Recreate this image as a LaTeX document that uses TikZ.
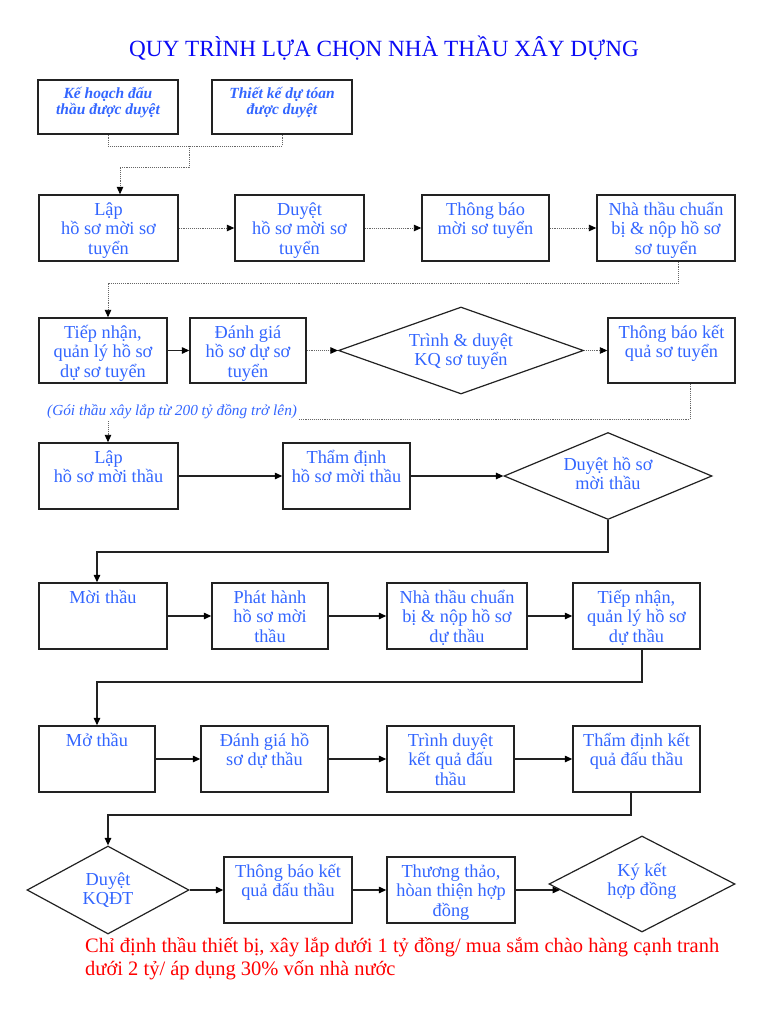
\documentclass[tikz,border=0pt]{standalone}
\usepackage{fontspec}
\setmainfont{Liberation Serif}
\usetikzlibrary{arrows.meta,shapes.geometric,calc}
\definecolor{txtblue}{HTML}{3366FF}
\definecolor{ttlblue}{HTML}{0A0AF5}
\definecolor{ln}{HTML}{222222}
\newcommand\fsbox{\fontsize{18.3}{19.5}\selectfont}
\newcommand\firstline{\rule{0pt}{18pt}}
\newcommand\bx[6]{%
  \node[box, minimum width={#4-#2}, minimum height={#5-#3}] (#1) at ({(#2+#4)/2},{(#3+#5)/2}) {};
  \node[txt, anchor=north] (#1-t) at ({(#2+#4)/2},{#3+2}) {\firstline#6};
}
\newcommand\dm[7]{% name cx cy w h firstbaseline text
  \node[dia, minimum width=#4, minimum height=#5] (#1) at (#2,#3) {};
  \node[txt, anchor=north] (#1-t) at (#2,{#6-18}) {\firstline#7};
}
\begin{document}
\begin{tikzpicture}[x=1pt,y=-1pt,
  box/.style={draw=ln, line width=1.4pt, inner sep=0pt, fill=white},
  txt/.style={text=txtblue, font=\fsbox, align=center, inner sep=0pt},
  dia/.style={diamond, draw=ln, line width=1.2pt, inner sep=0pt, fill=white},
  dotln/.style={draw=black!60, line width=0.9pt, densely dotted},
  dotarr/.style={dotln, -{Triangle[length=7.5pt,width=6.5pt,color=black]}},
  sln/.style={draw=ln, line width=1.3pt},
  sarr/.style={sln, -{Triangle[length=7.5pt,width=6.5pt,color=black]}},
]
\fill[white] (0,0) rectangle (768,1024);
\useasboundingbox (0,0) rectangle (768,1024);

% title
\node[anchor=base, text=ttlblue, font=\fontsize{23.2}{26}\selectfont, inner sep=0pt] (title) at (384,57) {QUY TRÌNH LỰA CHỌN NHÀ THẦU XÂY DỰNG};

% top boxes
\node[box, minimum width=140, minimum height=54] (A) at (108,107) {};
\node[txt, anchor=north, font=\fontsize{15.5}{16}\selectfont\bfseries\itshape] (A-t) at (108,{98-15}) {\rule{0pt}{15pt}Kế hoạch đấu\\thầu được duyệt};
\node[box, minimum width=140, minimum height=54] (B) at (282,107) {};
\node[txt, anchor=north, font=\fontsize{15.5}{16}\selectfont\bfseries\itshape] (B-t) at (282,{98-15}) {\rule{0pt}{15pt}Thiết kế dự tóan\\được duyệt};

% row 1
\bx{B1}{39}{195}{178}{261}{Lập\\hồ sơ mời sơ\\tuyển}
\bx{B2}{235}{195}{364}{261}{Duyệt\\hồ sơ mời sơ\\tuyển}
\bx{B3}{422}{195}{549}{261}{Thông báo\\mời sơ tuyển}
\bx{B4}{597}{195}{735}{261}{Nhà thầu chuẩn\\bị \& nộp hồ sơ\\sơ tuyển}

% row 2
\bx{C1}{39}{318}{167}{383}{Tiếp nhận,\\quản lý hồ sơ\\dự sơ tuyển}
\bx{C2}{190}{318}{306}{383}{Đánh giá\\hồ sơ dự sơ\\tuyển}
\dm{D1}{461}{350.5}{245}{87}{346}{Trình \& duyệt\\KQ sơ tuyển}
\bx{C4}{608}{318}{735}{383}{Thông báo kết\\quả sơ tuyển}

% row 3
\bx{E1}{39}{443}{178}{509}{Lập\\hồ sơ mời thầu}
\bx{E2}{283}{443}{410}{509}{Thẩm định\\hồ sơ mời thầu}
\dm{D2}{608}{476}{208}{87}{470}{Duyệt hồ sơ\\mời thầu}

% row 4
\bx{F1}{39}{583}{167}{649}{Mời thầu}
\bx{F2}{212}{583}{328}{649}{Phát hành\\hồ sơ mời\\thầu}
\bx{F3}{387}{583}{527}{649}{Nhà thầu chuẩn\\bị \& nộp hồ sơ\\dự thầu}
\bx{F4}{573}{583}{700}{649}{Tiếp nhận,\\quản lý hồ sơ\\dự thầu}

% row 5
\bx{G1}{39}{726}{155}{792}{Mở thầu}
\bx{G2}{201}{726}{328}{792}{Đánh giá hồ\\sơ dự thầu}
\bx{G3}{387}{726}{514}{792}{Trình duyệt\\kết quả đấu\\thầu}
\bx{G4}{573}{726}{700}{792}{Thẩm định kết\\quả đấu thầu}

% row 6
\dm{H1}{108}{890}{162}{88}{885}{Duyệt\\KQĐT}
\bx{H2}{224}{857}{352}{923}{Thông báo kết\\quả đấu thầu}
\bx{H3}{387}{857}{515}{923}{Thương thảo,\\hòan thiện hợp\\đồng}
\dm{H4}{642}{884}{186}{96}{876}{Ký kết\\hợp đồng}

% connectors top
\coordinate (ja) at (108,146);
\coordinate (jb) at (282,146);
\coordinate (jm) at (189,146);
\coordinate (jd) at (189,167);
\coordinate (je) at (120,167);
\draw[dotln] (A.south) -- (ja) -- (jb) -- (B.south);
\draw[dotarr] (jm) -- (jd) -- (je) -- (je |- B1.north);

% row 1
\draw[dotarr] (B1.east) -- (B2.west);
\draw[dotarr] (B2.east) -- (B3.west);
\draw[dotarr] (B3.east) -- (B4.west);
\coordinate (k1) at (678,283);
\coordinate (k2) at (108,283);
\draw[dotarr] (B4.south -| k1) -- (k1) -- (k2) -- (k2 |- C1.north);

% row 2
\draw[sarr] (C1.east) -- (C2.west);
\draw[dotarr] (C2.east) -- (D1.west);
\draw[dotarr] (D1.east) -- (C4.west);
\coordinate (l1) at (690,419);
\coordinate (l2) at (108,419);
\draw[dotarr] (C4.south -| l1) -- (l1) -- (l2) -- (l2 |- E1.north);
\node[anchor=base west, text=txtblue, font=\fontsize{15.3}{16}\selectfont\itshape, fill=white, inner sep=1.5pt] (note) at (45.5,415) {(Gói thầu xây lắp từ 200 tỷ đồng trở lên)};

% row 3
\draw[sarr] (E1.east) -- (E2.west);
\draw[sarr] (E2.east) -- (D2.west);
\coordinate (m1) at (608,552);
\coordinate (m2) at (97,552);
\draw[sarr] (D2.south) -- (m1) -- (m2) -- (m2 |- F1.north);

% row 4
\draw[sarr] (F1.east) -- (F2.west);
\draw[sarr] (F2.east) -- (F3.west);
\draw[sarr] (F3.east) -- (F4.west);
\coordinate (n1) at (642,682);
\coordinate (n2) at (97,682);
\draw[sarr] (F4.south -| n1) -- (n1) -- (n2) -- (n2 |- G1.north);

% row 5
\draw[sarr] (G1.east) -- (G2.west);
\draw[sarr] (G2.east) -- (G3.west);
\draw[sarr] (G3.east) -- (G4.west);
\coordinate (p1) at (631,815);
\coordinate (p2) at (108,815);
\draw[sarr] (G4.south -| p1) -- (p1) -- (p2) -- (p2 |- H1.north);

% row 6
\draw[sarr] (H1.east) -- (H2.west);
\draw[sarr] (H2.east) -- (H3.west);
\draw[sarr] (H3.east) -- ($(H4.west)+(11.6,6)$);

% red note
\node[anchor=north west, text=red, font=\fontsize{20.5}{23.5}\selectfont, align=left, inner sep=0pt] (red) at (85,{952-20}) {\rule{0pt}{20pt}Chỉ định thầu thiết bị, xây lắp dưới 1 tỷ đồng/ mua sắm chào hàng cạnh tranh\\dưới 2 tỷ/ áp dụng 30\% vốn nhà nước};
\end{tikzpicture}
\end{document}
